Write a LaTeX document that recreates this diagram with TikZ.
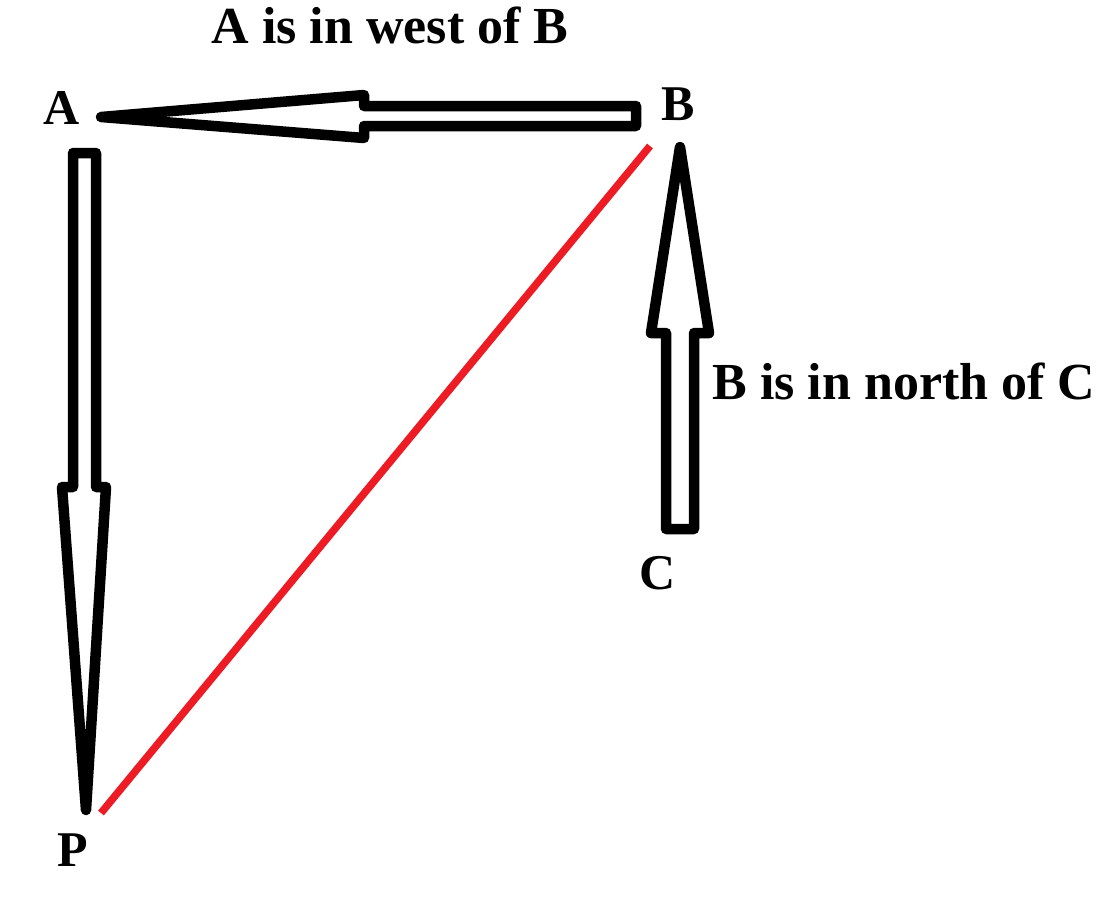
\documentclass[tikz,border=0pt]{standalone}
\usepackage{fontspec}
\setmainfont{Liberation Serif}
\usepackage{tikz}
\definecolor{paintred}{RGB}{237,28,36}

\begin{document}
\begin{tikzpicture}[x=1pt,y=-1pt,
    blockarrow/.style={draw,black,line width=10.5pt,line join=round},
    pointlabel/.style={inner sep=0pt,anchor=base,font=\fontsize{50}{60}\selectfont\bfseries},
    sentence/.style={inner sep=0pt,anchor=base,font=\fontsize{52}{62}\selectfont\bfseries}]
  \useasboundingbox (0,0) rectangle (1114,897);

  %point labels
  \node[pointlabel] (A) at (62,124) {A};
  \node[pointlabel] (B) at (678,120) {B};
  \node[pointlabel] (C) at (658,589) {C};
  \node[pointlabel] (P) at (73,866) {P};

  %statements
  \node[sentence] (westAB) at (390,43) {A is in west of B};
  \node[sentence] (northBC) at (904,399) {B is in north of C};

  %arrow from B towards A
  \draw[blockarrow] (101,117) -- (364,95) -- (364,106) -- (636,106) -- (636,126)
    -- (364,126) -- (364,138) -- cycle;

  %arrow from C towards B
  \draw[blockarrow] (680,147) -- (709,333) -- (694,333) -- (694,529) -- (666,529)
    -- (666,333) -- (651,333) -- cycle;

  %arrow from A towards P
  \draw[blockarrow] (73,153) -- (96,153) -- (96,487) -- (106,487) -- (86,810)
    -- (62,487) -- (73,487) -- cycle;

  %shortest way from P to B
  \coordinate (endP) at (101,813);
  \coordinate (endB) at (650,146);
  \draw[paintred,line width=7.5pt] (endP) -- (endB);
\end{tikzpicture}
\end{document}
